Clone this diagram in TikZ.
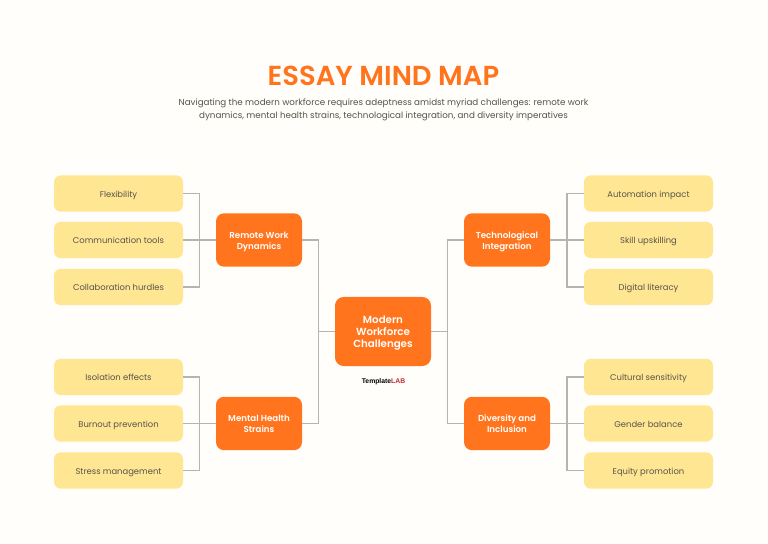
\documentclass[tikz,border=0pt]{standalone}
\usepackage{fontspec}
\setmainfont[BoldFont={Poppins SemiBold}]{Poppins}
\newfontfamily\logofont{Liberation Sans}
\definecolor{pagebg}{HTML}{FFFEFA}
\definecolor{hot}{HTML}{FF741D}
\definecolor{soft}{HTML}{FFE693}
\definecolor{wire}{HTML}{B4B4B0}
\definecolor{ink}{HTML}{57534A}
\definecolor{logored}{HTML}{C4282C}
\newcommand\hubstrut{\rule{0pt}{5.9pt}}
\newcommand\midstrut{\rule{0pt}{6.2pt}}
\tikzset{
  x=0.75pt,y=-0.75pt,
  leaf/.style={fill=soft,rounded corners=5pt,minimum width=96.75pt,minimum height=27.2pt,inner sep=0pt,align=center,text=ink,text height=5.6pt,text depth=0pt,font=\fontsize{6.3}{9}\selectfont},
  mid/.style={fill=hot,rounded corners=6pt,minimum width=64.5pt,minimum height=40pt,inner sep=0pt,align=center,text=white,font=\fontsize{6.5}{8.3}\selectfont\bfseries},
  hub/.style={fill=hot,rounded corners=6.5pt,minimum width=72pt,minimum height=51.8pt,inner sep=0pt,align=center,text=white,font=\fontsize{7.7}{9}\selectfont\bfseries},
  wirel/.style={draw=wire,line width=0.85pt},
}
\begin{document}
\begin{tikzpicture}
\fill[pagebg] (0,0) rectangle (768,543);
\useasboundingbox (0,0) rectangle (768,543);
\node[text=hot,font=\fontsize{20.6}{25}\selectfont\bfseries] (title) at (383.5,76) {ESSAY MIND MAP};
\node[text=ink,align=center,font=\fontsize{6.55}{9.9}\selectfont] (sub) at (383.5,109.5) {Navigating the modern workforce requires adeptness amidst myriad challenges: remote work\\dynamics, mental health strains, technological integration, and diversity imperatives};
% coordinates for elbows
\coordinate (ltx) at (199.5,0);
\coordinate (rtx) at (567,0);
\coordinate (lmx) at (318.5,0);
\coordinate (rmx) at (447.5,0);
% left leaves
\node[leaf] (l1) at (118.5,193.5) {Flexibility};
\node[leaf] (l2) at (118.5,240) {Communication tools};
\node[leaf] (l3) at (118.5,287) {Collaboration hurdles};
\node[leaf] (l4) at (118.5,377) {Isolation effects};
\node[leaf] (l5) at (118.5,423.5) {Burnout prevention};
\node[leaf] (l6) at (118.5,470.5) {Stress management};
% right leaves
\node[leaf] (r1) at (648.5,193.5) {Automation impact};
\node[leaf] (r2) at (648.5,240) {Skill upskilling};
\node[leaf] (r3) at (648.5,287) {Digital literacy};
\node[leaf] (r4) at (648.5,377) {Cultural sensitivity};
\node[leaf] (r5) at (648.5,423.5) {Gender balance};
\node[leaf] (r6) at (648.5,470.5) {Equity promotion};
% mids
\node[mid] (m1) at (259,240) {\midstrut Remote Work\\\smash{Dynamics}};
\node[mid] (m2) at (259,423.5) {Mental Health\\\smash{Strains}};
\node[mid] (m3) at (507,240) {\midstrut Technological\\\smash{Integration}};
\node[mid] (m4) at (507,423.5) {Diversity and\\\smash{Inclusion}};
\node[hub] (hub) at (383,331.5) {\hubstrut Modern\\Workforce\\\smash{Challenges}};
\node[font=\logofont\fontsize{5.1}{7}\selectfont\bfseries,inner sep=0pt] (logo) at (383.5,381.5) {Template\textcolor{logored}{LAB}};
% connectors
\draw[wirel] (l1.east) -| (ltx |- l3.east) -- (l3.east);
\draw[wirel] (l2.east) -- (m1.west);
\draw[wirel] (l4.east) -| (ltx |- l6.east) -- (l6.east);
\draw[wirel] (l5.east) -- (m2.west);
\draw[wirel] (r1.west) -| (rtx |- r3.west) -- (r3.west);
\draw[wirel] (r2.west) -- (m3.east);
\draw[wirel] (r4.west) -| (rtx |- r6.west) -- (r6.west);
\draw[wirel] (r5.west) -- (m4.east);
\draw[wirel] (m1.east) -| (lmx |- m2.east) -- (m2.east);
\draw[wirel] (hub.west) -- (lmx |- hub.west);
\draw[wirel] (m3.west) -| (rmx |- m4.west) -- (m4.west);
\draw[wirel] (hub.east) -- (rmx |- hub.east);
\end{tikzpicture}
\end{document}
